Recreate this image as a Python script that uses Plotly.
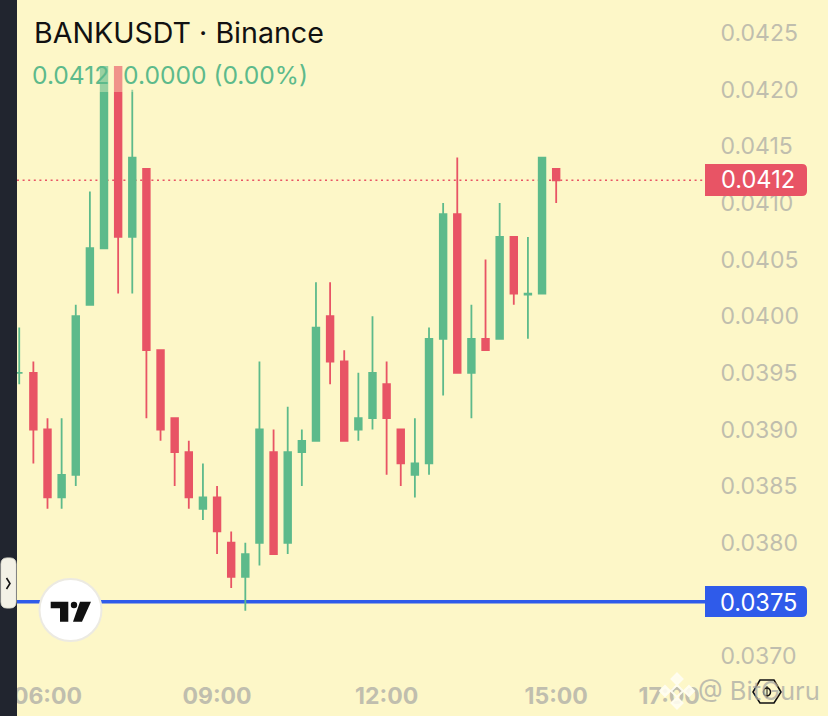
import plotly.graph_objects as go
import datetime as dt

# ---------- data ----------
DAY = "2025-01-01 "
times = ["05:30","05:45","06:00","06:15","06:30","06:45","07:00","07:15","07:30","07:45",
         "08:00","08:15","08:30","08:45","09:00","09:15","09:30","09:45","10:00","10:15",
         "10:30","10:45","11:00","11:15","11:30","11:45","12:00","12:15","12:30","12:45",
         "13:00","13:15","13:30","13:45","14:00","14:15","14:30","14:45","15:00"]
opens  = [.0395,.0395,.0390,.0384,.0386,.0401,.0406,.0422,.0407,.0413,
          .0397,.0391,.0388,.0383,.0384,.0380,.0377,.0380,.0388,.0380,
          .0388,.0389,.0400,.0396,.0390,.0391,.0394,.0390,.0386,.0387,
          .0398,.0409,.0395,.0398,.0398,.0407,.04019,.0402,.0413]
highs  = [.0399,.0396,.0391,.0391,.0401,.0411,.0422,.0422,.0420,.0413,
          .0397,.0391,.0389,.0387,.0385,.0381,.0380,.0396,.0390,.0392,
          .0390,.0403,.0403,.0397,.0395,.0400,.0396,.0390,.0391,.0399,
          .0410,.0414,.0401,.0405,.0410,.0407,.0407,.0414,.0413]
lows   = [.0394,.0387,.0383,.0383,.0385,.0401,.0406,.0402,.0402,.0391,
          .0389,.0385,.0383,.0382,.0379,.0376,.0374,.0378,.0379,.0379,
          .0385,.0389,.0394,.0389,.0389,.0390,.0386,.0385,.0384,.0386,
          .0393,.0395,.0391,.0397,.0398,.0401,.0398,.0402,.0410]
closes = [.0395,.0390,.0384,.0386,.0400,.0406,.0422,.0407,.0414,.0397,
          .0390,.0388,.0384,.0384,.0381,.0377,.0379,.0390,.0379,.0388,
          .0389,.0399,.0396,.0389,.0391,.0395,.0391,.0387,.0387,.0398,
          .0409,.0395,.0398,.0397,.0407,.0402,.0402,.0414,.0412]
x_ticks = ["06:00","09:00","12:00","15:00","17:00"]
last_price = 0.0412
level_price = 0.03748
title_text = "BANKUSDT · Binance"
legend_text = "0.0412  0.0000 (0.00%)"

# ---------- style ----------
W, H = 828, 716
PLOT_R, PLOT_B = 705, 673
BG = "#FDF7C8"; GREEN = "#5DBA8B"; RED = "#E85465"; BLUE = "#2F5BEA"
GREY = "#C0BEAE"; DARK = "#21252F"; FONT = "Inter"

def px(x): return x / PLOT_R
def py(y): return 1 - y / PLOT_B
def path(points):
    return "M " + " L ".join(f"{px(a):.5f},{py(b):.5f}" for a, b in points) + " Z"
def rounded_tag(x0, y0, x1, y1, r=5):
    return (f"M {px(x0):.5f},{py(y0):.5f} L {px(x1-r):.5f},{py(y0):.5f} "
            f"Q {px(x1):.5f},{py(y0):.5f} {px(x1):.5f},{py(y0+r):.5f} "
            f"L {px(x1):.5f},{py(y1-r):.5f} Q {px(x1):.5f},{py(y1):.5f} {px(x1-r):.5f},{py(y1):.5f} "
            f"L {px(x0):.5f},{py(y1):.5f} Z")
def rounded_all(x0, y0, x1, y1, r):
    return (f"M {px(x0+r):.5f},{py(y0):.5f} L {px(x1-r):.5f},{py(y0):.5f} "
            f"Q {px(x1):.5f},{py(y0):.5f} {px(x1):.5f},{py(y0+r):.5f} "
            f"L {px(x1):.5f},{py(y1-r):.5f} Q {px(x1):.5f},{py(y1):.5f} {px(x1-r):.5f},{py(y1):.5f} "
            f"L {px(x0+r):.5f},{py(y1):.5f} Q {px(x0):.5f},{py(y1):.5f} {px(x0):.5f},{py(y1-r):.5f} "
            f"L {px(x0):.5f},{py(y0+r):.5f} Q {px(x0):.5f},{py(y0):.5f} {px(x0+r):.5f},{py(y0):.5f} Z")

fig = go.Figure(go.Candlestick(
    x=[DAY + t for t in times], open=opens, high=highs, low=lows, close=closes,
    increasing=dict(line=dict(color=GREEN, width=1.8), fillcolor=GREEN),
    decreasing=dict(line=dict(color=RED, width=1.8), fillcolor=RED),
    whiskerwidth=0, showlegend=False, hoverinfo="skip",
))

shapes = []
# price lines
shapes.append(dict(type="line", xref="paper", x0=px(17), x1=1, yref="y", y0=last_price, y1=last_price,
                   line=dict(color=RED, width=1.5, dash="2px,3.6px"), layer="below"))
shapes.append(dict(type="line", xref="paper", x0=px(17), x1=1, yref="y", y0=level_price, y1=level_price,
                   line=dict(color=BLUE, width=3.5), layer="below"))
# veil behind legend row
shapes.append(dict(type="rect", xref="paper", yref="paper", x0=px(33), x1=px(309), y0=py(92), y1=py(64),
                   fillcolor="rgba(253,247,200,0.38)", line_width=0, layer="above"))
# left strip + handle
shapes.append(dict(type="rect", xref="paper", yref="paper", x0=0, x1=px(17), y0=py(H), y1=py(0),
                   fillcolor=DARK, line_width=0, layer="above"))
shapes.append(dict(type="path", xref="paper", yref="paper", path=rounded_all(1, 558, 16, 608, 6),
                   fillcolor="#F3F1E6", line=dict(color="#E6E4D8", width=1), layer="above"))
shapes.append(dict(type="path", xref="paper", yref="paper",
                   path=f"M {px(6.5):.5f},{py(578):.5f} L {px(10):.5f},{py(583.5):.5f} L {px(6.5):.5f},{py(589):.5f}",
                   line=dict(color="#111111", width=1.6), layer="above"))
# TradingView badge
shapes.append(dict(type="circle", xref="paper", yref="paper", x0=px(39.5), x1=px(101.5), y0=py(641), y1=py(579),
                   fillcolor="#FFFFFF", line=dict(color="#ECEAE2", width=2), layer="above"))
shapes.append(dict(type="path", xref="paper", yref="paper", fillcolor="#111111", line_width=0, layer="above",
                   path=path([(50.7,601.7),(68.3,601.7),(68.3,621.7),(60,621.7),(60,608.3),(50.7,608.3)])))
shapes.append(dict(type="circle", xref="paper", yref="paper", x0=px(70.8), x1=px(77.2), y0=py(608.2), y1=py(601.8),
                   fillcolor="#111111", line_width=0, layer="above"))
shapes.append(dict(type="path", xref="paper", yref="paper", fillcolor="#111111", line_width=0, layer="above",
                   path=path([(80,601.7),(91,601.7),(82,621.7),(73,621.7)])))
# value tags
shapes.append(dict(type="path", xref="paper", yref="paper", path=rounded_tag(705, 164, 807, 196),
                   fillcolor=RED, line_width=0, layer="above"))
shapes.append(dict(type="path", xref="paper", yref="paper", path=rounded_tag(705, 586, 807, 617),
                   fillcolor=BLUE, line_width=0, layer="above"))
# watermark diamonds (Binance mark)
for cx, cy, r in [(677,691,6),(677,679,5.5),(677,703,5.5),(665,691,5),(689,691,5)]:
    shapes.append(dict(type="path", xref="paper", yref="paper", layer="above",
                       fillcolor="rgba(255,255,255,0.0)" if (cx, cy) == (677, 691) else "rgba(255,253,240,0.9)",
                       line=dict(color="rgba(255,253,240,0.95)", width=2),
                       path=path([(cx,cy-r),(cx+r,cy),(cx,cy+r),(cx-r,cy)])))
# hexagon badge
shapes.append(dict(type="path", xref="paper", yref="paper", layer="above", fillcolor=BG,
                   line=dict(color="#111111", width=1.6),
                   path=path([(760,680),(774,680),(781,692),(774,703),(760,703),(753,692)])))
shapes.append(dict(type="circle", xref="paper", yref="paper", x0=px(763.5), x1=px(770.5), y0=py(696), y1=py(688),
                   fillcolor="rgba(0,0,0,0)", line=dict(color="#111111", width=1.5), layer="above"))
shapes.append(dict(type="line", xref="paper", yref="paper", x0=px(767), x1=px(767), y0=py(698), y1=py(686),
                   line=dict(color="#111111", width=1), layer="above"))

def note(text, x, y, size, color, anchor="left"):
    return dict(text=text, xref="paper", yref="paper", x=px(x), y=py(y), xanchor=anchor, yanchor="middle",
                showarrow=False, font=dict(family=FONT, size=size, color=color), borderpad=0)

annotations = [
    note(title_text, 33, 32, 28.6, "#111111"),
    note(legend_text, 31, 75, 24.6, GREEN),
    note(f"{last_price:.4f}", 758, 180, 23.6, "#FFFFFF", "center"),
    note("0.0375", 758, 602, 23.6, "#FFFFFF", "center"),
    note("@ BitGuru", 697, 691, 25.5, "rgba(170,170,165,0.75)"),
]

def p_at(y):   # axis value shown at a given pixel height
    return 0.0425 - (y - 33) / 113280
ms_per_px = 15 * 60 * 1000 / 14.13
base = dt.datetime(2025, 1, 1, 6, 0)
x0 = base + dt.timedelta(milliseconds=-47.5 * ms_per_px)
x1 = base + dt.timedelta(milliseconds=(PLOT_R - 47.5) * ms_per_px)

fig.update_layout(
    width=W, height=H, paper_bgcolor=BG, plot_bgcolor=BG,
    margin=dict(l=0, r=W - PLOT_R, t=0, b=H - PLOT_B),
    boxgap=0.33, shapes=shapes, annotations=annotations, showlegend=False,
    font=dict(family=FONT),
    xaxis=dict(range=[x0, x1], type="date", rangeslider_visible=False, showgrid=False, zeroline=False,
               showline=False, tickmode="array", tickvals=[DAY + t for t in x_ticks], ticktext=x_ticks,
               tickfont=dict(family=FONT, size=23, color=GREY, weight=700),
               ticks="outside", ticklen=2, tickcolor=BG),
    yaxis=dict(range=[p_at(PLOT_B), p_at(0)], side="right", showgrid=False, zeroline=False, showline=False,
               tick0=0.037, dtick=0.0005, tickformat=".4f",
               tickfont=dict(family=FONT, size=23, color=GREY),
               ticks="outside", ticklen=10, tickcolor=BG),
)

fig.write_html("out.html", config=dict(displayModeBar=False),
               post_script="document.body.style.margin='0';")
